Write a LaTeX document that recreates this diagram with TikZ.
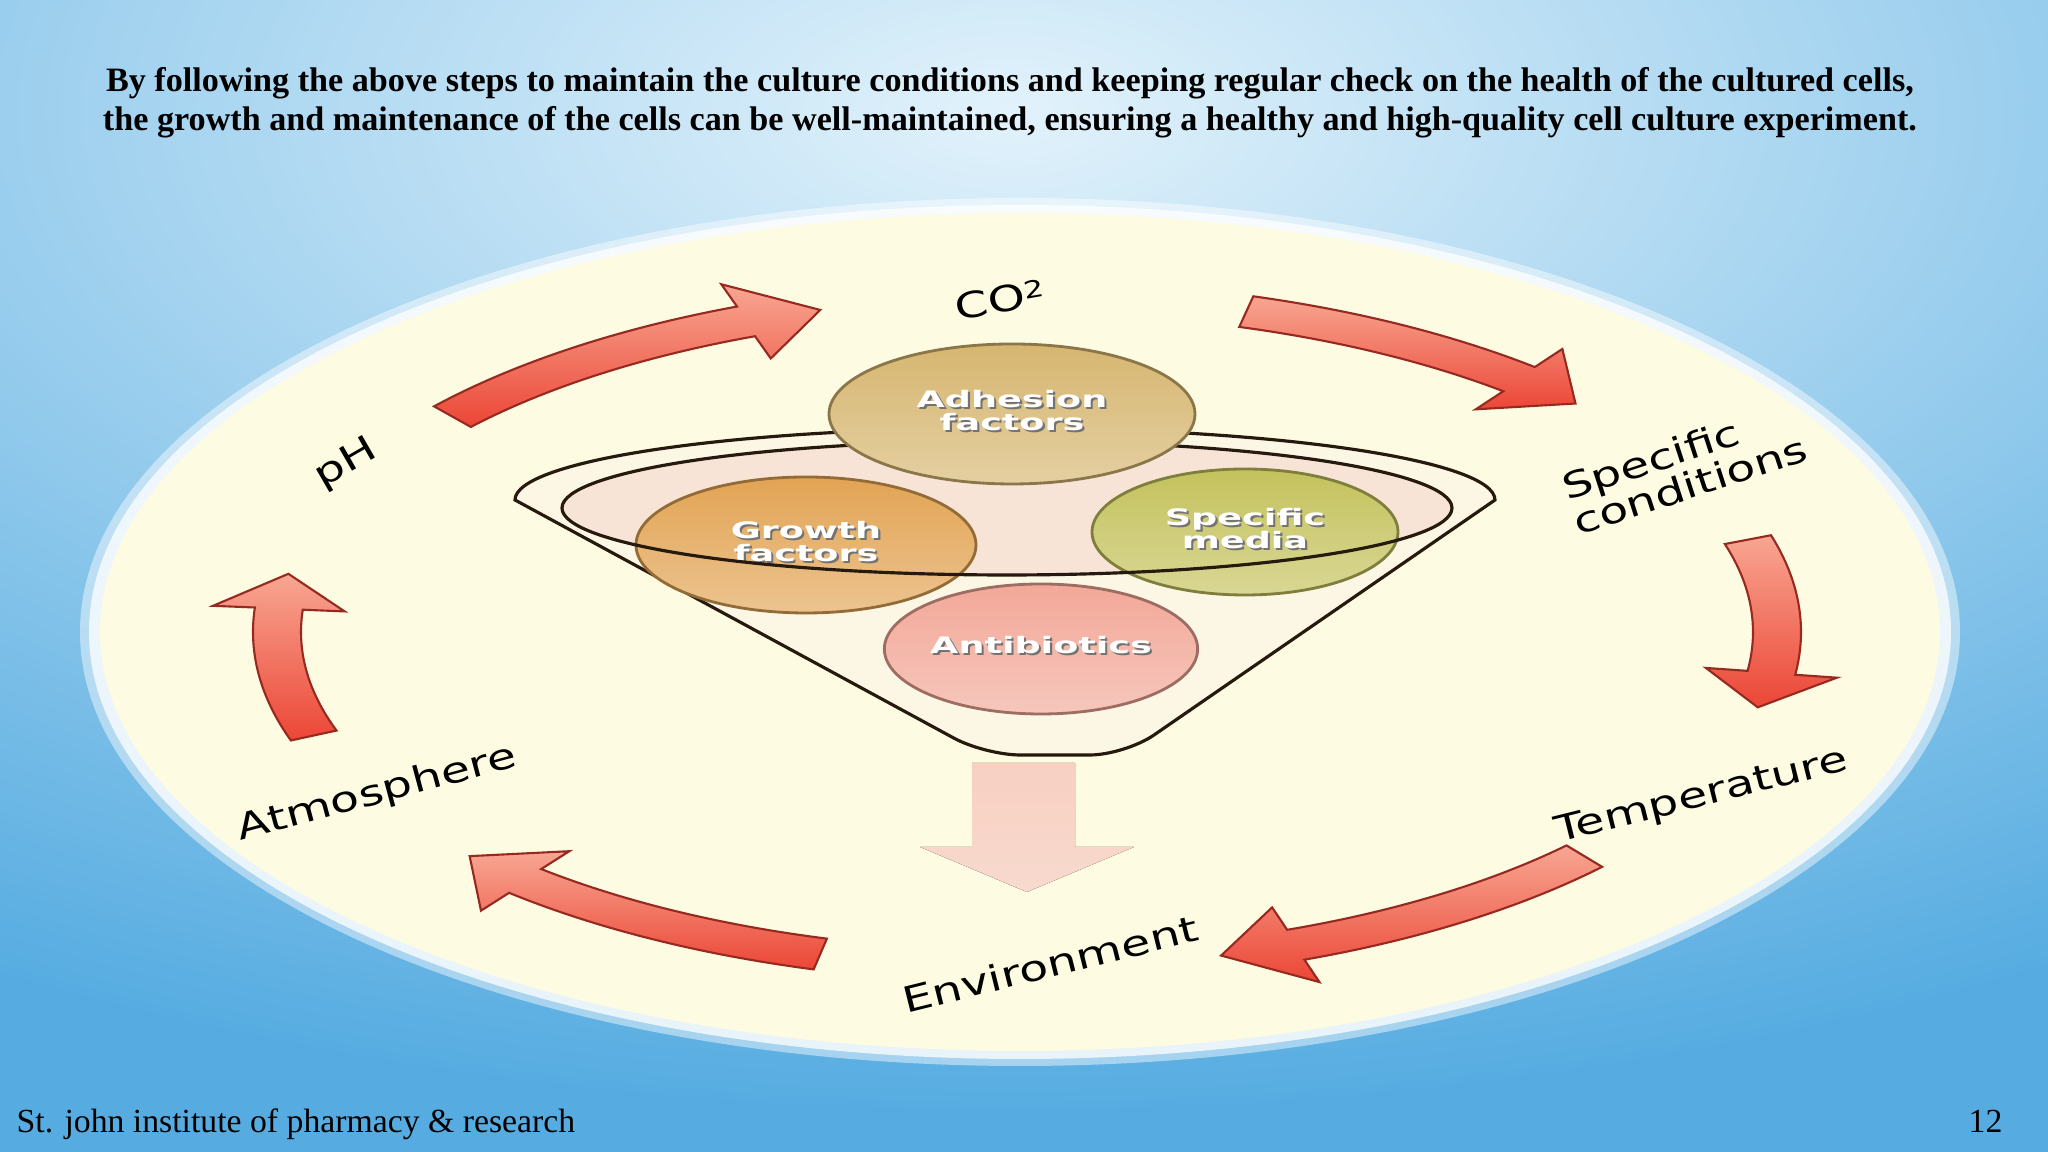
\documentclass[tikz,border=0pt]{standalone}
\usepackage{fontspec}
\usepackage{graphicx}
\setmainfont{Liberation Serif}
\newfontfamily\labelfont{DejaVu Sans}
\usetikzlibrary{shapes.geometric}

\definecolor{skyblue}{RGB}{86,172,225}
\definecolor{skylight}{RGB}{226,242,251}
\definecolor{creamy}{RGB}{253,251,226}
\definecolor{arrowred}{RGB}{236,70,54}
\definecolor{arrowpink}{RGB}{248,166,146}
\definecolor{arrowedge}{RGB}{150,42,32}
\definecolor{adhesioncol}{RGB}{214,182,112}
\definecolor{growthcol}{RGB}{226,164,84}
\definecolor{mediacol}{RGB}{196,194,92}
\definecolor{antibcol}{RGB}{242,168,152}
\definecolor{funnelpink}{RGB}{248,228,214}
\definecolor{funnelbody}{RGB}{252,247,228}
\definecolor{downpink}{RGB}{247,208,194}

\newcommand{\squash}[2]{\scalebox{1}[#1]{#2}}
\newcommand{\shadowed}[1]{\rlap{\kern0.6pt\raisebox{-0.6pt}{\color{black!55}#1}}#1}
\newcommand{\celltext}[1]{\shadowed{\squash{0.62}{\begin{tabular}{@{}c@{}}#1\end{tabular}}}}

\begin{document}
\begin{tikzpicture}[
  ringlabel/.style={font=\labelfont\fontsize{13.5}{12}\selectfont, inner sep=0pt},
  cellnode/.style={ellipse, draw=#1!65!black, line width=0.8pt, top color=#1, bottom color=#1!65!white,
    inner sep=0pt, text=white, font=\labelfont\bfseries\fontsize{10.4}{9}\selectfont},
  ringarrow/.style={draw=arrowedge, line width=0.6pt, top color=arrowpink, bottom color=arrowred},
  funnelline/.style={draw=black!80!brown, line width=0.9pt}
]
\begin{scope}
\clip (0,0) rectangle (20.48,11.52);
\fill[skyblue] (0,0) rectangle (20.48,11.52);
\shade[inner color=skylight, outer color=skyblue] (10.1,10.4) ellipse [x radius=20, y radius=10];
\end{scope}
\useasboundingbox (0,0) rectangle (20.48,11.52);

\fill[white, opacity=0.45] (10.2,5.2) ellipse [x radius=9.40, y radius=4.34];
\fill[white, opacity=0.75] (10.2,5.2) ellipse [x radius=9.31, y radius=4.27];
\fill[creamy] (10.2,5.2) ellipse [x radius=9.2, y radius=4.19];

\begin{scope}[shift={(10.27,5.2)}]
\foreach \s/\e in {140/106, 73/43, 16/-13, -42/-75, -106/-138, -162/-190}{
  \pgfmathsetmacro{\b}{\e+6}
  \path[ringarrow] (\s:7.74 and 3.51) arc[start angle=\s, end angle=\b, x radius=7.74, y radius=3.51]
    -- (\b:8.16 and 3.75) -- (\e:7.5 and 3.35) -- (\b:6.84 and 2.95) -- (\b:7.26 and 3.19)
    arc[start angle=\b, end angle=\s, x radius=7.26, y radius=3.19] -- cycle;
}
\end{scope}

\node[ringlabel, rotate=10] (co2) at (10.0,8.52) {\squash{0.75}{CO\raisebox{0.45ex}{\fontsize{9}{9}\selectfont 2}}};
\node[ringlabel, rotate=30] (ph) at (3.46,6.88) {\squash{0.75}{pH}};
\node[ringlabel, rotate=18] (speccond) at (16.86,6.80) {\squash{0.75}{\begin{tabular}{@{}l@{}}Specific\\conditions\end{tabular}}};
\node[ringlabel, rotate=14] (temp) at (17.02,3.55) {\squash{0.75}{Temperature}};
\node[ringlabel, rotate=14] (env) at (10.50,1.88) {\squash{0.75}{Environment}};
\node[ringlabel, rotate=15] (atmo) at (3.77,3.58) {\squash{0.75}{Atmosphere}};

\filldraw[funnelline, fill=funnelbody] (5.15,6.52) arc[start angle=180, end angle=0, x radius=4.9, y radius=0.72]
  [rounded corners=0.35cm] -- (11.25,3.97) -- (9.85,3.97) [sharp corners] -- cycle;
\fill[funnelpink] (10.07,6.44) ellipse [x radius=4.45, y radius=0.67];

\fill[top color=downpink, bottom color=downpink!80!white] (9.72,3.89) -- (10.75,3.89) -- (10.75,3.05)
  -- (11.34,3.05) -- (10.27,2.60) -- (9.20,3.05) -- (9.72,3.05) -- cycle;

\node[cellnode=growthcol, minimum width=3.4cm, minimum height=1.36cm] (growth) at (8.06,6.07) {\celltext{Growth\\factors}};
\node[cellnode=mediacol, minimum width=3.06cm, minimum height=1.26cm] (media) at (12.45,6.20) {\celltext{Specific\\media}};
\node[cellnode=antibcol, minimum width=3.04cm, minimum height=1.30cm] (antib) at (10.41,5.03) {\celltext{Antibiotics}};
\draw[funnelline] (10.07,6.44) ellipse [x radius=4.45, y radius=0.67];
\node[cellnode=adhesioncol, minimum width=3.66cm, minimum height=1.40cm] (adhesion) at (10.12,7.38) {\celltext{Adhesion\\factors}};

\node[font=\bfseries\fontsize{9.72}{11.05}\selectfont, align=center] (title) at (10.1,10.49)
  {By following the above steps to maintain the culture conditions and keeping regular check on the health of the cultured cells,\\
   the growth and maintenance of the cells can be well-maintained, ensuring a healthy and high-quality cell culture experiment.};
\node[anchor=base west, inner sep=0pt, font=\fontsize{9.6}{11}\selectfont] (footer) at (0.16,0.19) {St. john institute of pharmacy \& research};
\node[anchor=base west, inner sep=0pt, font=\fontsize{9.6}{11}\selectfont] (pagenum) at (19.68,0.19) {12};
\end{tikzpicture}
\end{document}
